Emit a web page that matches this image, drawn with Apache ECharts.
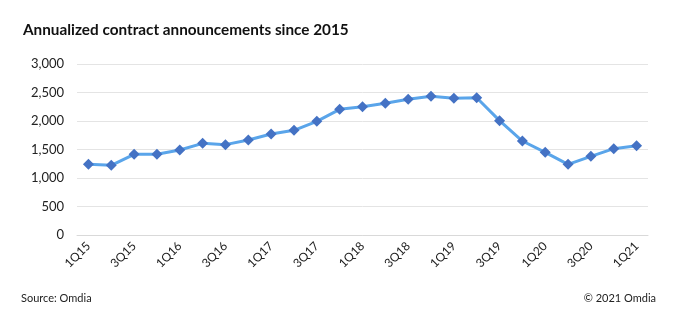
<!DOCTYPE html>
<html>
<head>
<meta charset="utf-8">
<script src="https://cdn.jsdelivr.net/npm/echarts@6/dist/echarts.min.js"></script>
<style>
  html, body { margin: 0; padding: 0; background: #fff; }
  #chart { width: 675px; height: 325px; }
</style>
</head>
<body>
<div id="chart"></div>
<script>
// Quarterly categories, 1Q15 through 1Q21
const quarters = [
  '1Q15','2Q15','3Q15','4Q15',
  '1Q16','2Q16','3Q16','4Q16',
  '1Q17','2Q17','3Q17','4Q17',
  '1Q18','2Q18','3Q18','4Q18',
  '1Q19','2Q19','3Q19','4Q19',
  '1Q20','2Q20','3Q20','4Q20',
  '1Q21'
];

// Annualized contract announcements
const announcements = [
  1240, 1222, 1415, 1415,
  1491, 1608, 1585, 1667,
  1772, 1836, 1994, 2205,
  2251, 2310, 2380, 2433,
  2398, 2409, 2006, 1649,
  1450, 1240, 1380, 1515,
  1567
];

const yTicks = { min: 0, max: 3000, interval: 500 };

const font = 'Lato, "Noto Sans", sans-serif';
const chart = echarts.init(document.getElementById('chart'), null, { renderer: 'canvas' });

chart.setOption({
  animation: false,
  backgroundColor: '#ffffff',
  title: [
    {
      text: 'Annualized contract announcements since 2015',
      left: 18, top: 18,
      textStyle: { fontFamily: font, fontSize: 15.3, fontWeight: 'bold', color: '#111' }
    },
    {
      text: 'Source: Omdia',
      left: 16, top: 288,
      textStyle: { fontFamily: font, fontSize: 11, fontWeight: 'normal', color: '#222' }
    },
    {
      text: '© 2021 Omdia',
      right: 14, top: 288,
      textStyle: { fontFamily: font, fontSize: 11, fontWeight: 'normal', color: '#222' }
    }
  ],
  grid: { left: 77, right: 27, top: 64, bottom: 90, containLabel: false },
  xAxis: {
    type: 'category',
    data: quarters,
    boundaryGap: true,
    axisLine: { lineStyle: { color: '#d9d9d9' } },
    axisTick: { show: false },
    axisLabel: {
      interval: 1,
      rotate: 45,
      margin: 9,
      fontFamily: font,
      fontSize: 12,
      color: '#222'
    }
  },
  yAxis: {
    type: 'value',
    min: yTicks.min,
    max: yTicks.max,
    interval: yTicks.interval,
    axisLine: { show: false },
    axisTick: { show: false },
    splitLine: { lineStyle: { color: '#e4e4e4' } },
    axisLabel: {
      margin: 13,
      fontFamily: font,
      fontSize: 13,
      color: '#222',
      formatter: v => v.toLocaleString('en-US')
    }
  },
  series: [{
    type: 'line',
    data: announcements,
    symbol: 'diamond',
    symbolSize: 11,
    lineStyle: { color: '#5aa5ea', width: 3 },
    itemStyle: { color: '#4472c4' }
  }]
});
</script>
</body>
</html>
